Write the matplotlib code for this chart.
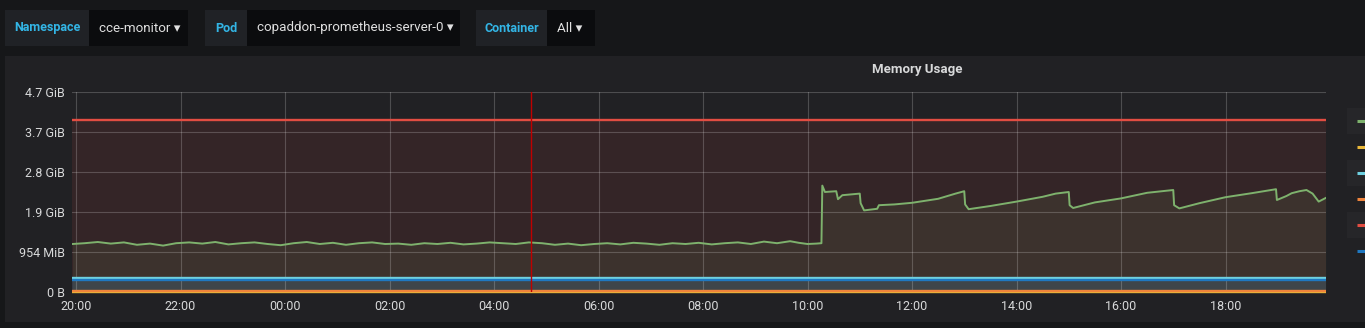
import matplotlib
matplotlib.use('Agg')
import matplotlib.pyplot as plt
import matplotlib.dates as mdates
from matplotlib.patches import Rectangle
from matplotlib.lines import Line2D
from datetime import datetime, timedelta

# ---------------- data ----------------
title = "Memory Usage"
var_labels = ["Namespace", "Pod", "Container"]
var_values = ["cce-monitor", "copaddon-prometheus-server-0", "All"]

# memory usage in units of 1e9 bytes
green_times = ["19:56", "20:10", "20:25", "20:40", "20:55", "21:10", "21:25", "21:40", "21:55",
               "22:10", "22:25", "22:40", "22:55", "23:10", "23:25", "23:40", "23:55",
               "00:10", "00:25", "00:40", "00:55", "01:10", "01:25", "01:40", "01:55",
               "02:10", "02:25", "02:40", "02:55", "03:10", "03:25", "03:40", "03:55",
               "04:10", "04:25", "04:40", "04:55", "05:10", "05:25", "05:40", "05:55",
               "06:10", "06:25", "06:40", "06:55", "07:10", "07:25", "07:40", "07:55",
               "08:10", "08:25", "08:40", "08:55", "09:10", "09:25", "09:40", "09:50",
               "10:00", "10:10", "10:16",
               "10:17", "10:20", "10:33", "10:35", "10:40", "11:00", "11:01", "11:05",
               "11:20", "11:22", "11:40", "12:00", "12:30", "12:50", "13:00",
               "13:01", "13:05", "13:30", "14:00", "14:30", "14:45", "15:00",
               "15:01", "15:05", "15:30", "16:00", "16:30", "17:00",
               "17:01", "17:07", "17:30", "18:00", "18:30", "18:58",
               "18:59", "19:10", "19:16", "19:25", "19:33", "19:40", "19:47", "19:55"]
green_vals = [1.20, 1.22, 1.25, 1.21, 1.24, 1.18, 1.21, 1.16, 1.22,
              1.24, 1.21, 1.25, 1.19, 1.22, 1.24, 1.20, 1.17,
              1.22, 1.25, 1.20, 1.23, 1.18, 1.22, 1.24, 1.20,
              1.21, 1.18, 1.22, 1.20, 1.23, 1.19, 1.21, 1.24,
              1.22, 1.20, 1.24, 1.22, 1.18, 1.21, 1.17, 1.20,
              1.22, 1.19, 1.23, 1.21, 1.18, 1.22, 1.20, 1.23,
              1.19, 1.22, 1.24, 1.20, 1.26, 1.22, 1.27, 1.23,
              1.20, 1.21, 1.22,
              2.66, 2.50, 2.52, 2.32, 2.42, 2.46, 2.22, 2.04,
              2.08, 2.17, 2.19, 2.23, 2.33, 2.46, 2.52,
              2.19, 2.07, 2.15, 2.26, 2.38, 2.46, 2.50,
              2.17, 2.10, 2.24, 2.34, 2.48, 2.55,
              2.17, 2.09, 2.22, 2.37, 2.47, 2.57,
              2.30, 2.40, 2.47, 2.52, 2.55, 2.46, 2.26, 2.35]

# constant series (1e9 bytes)
series_names = ["usage", "request", "cache", "rss", "limit", "working set"]
series_colors = ["#7eb26d", "#eab839", "#6ed0e0", "#ef843c", "#e24d42", "#1f78c1"]
const_vals = {"request": 0.0, "cache": 0.345, "rss": 0.035, "limit": 4.30, "working set": 0.30}

marker_time = "04:42"
y_ticks = [0, 1, 2, 3, 4, 5]
y_tick_labels = ["0 B", "954 MiB", "1.9 GiB", "2.8 GiB", "3.7 GiB", "4.7 GiB"]

# ---------------- helpers ----------------
W, H = 1365, 328
base = datetime(2019, 1, 1, 0, 0)


def to_dt(seq):
    out, day, prev = [], 0, None
    for s in seq:
        hh, mm = map(int, s.split(":"))
        m = hh * 60 + mm
        if prev is not None and m < prev:
            day += 1
        prev = m
        out.append(base + timedelta(days=day, minutes=m))
    return out


gt = to_dt(green_times)
x_start = base + timedelta(hours=19, minutes=55, seconds=24)
x_end = x_start + timedelta(hours=24)
mh, mm = map(int, marker_time.split(":"))
marker_dt = base + timedelta(days=1, hours=mh, minutes=mm)

fig = plt.figure(figsize=(W / 100, H / 100), dpi=100)
fig.patch.set_facecolor('#161719')


def fx(x):
    return x / W


def fy(y):
    return 1 - y / H


def box(x0, y0, x1, y1, color, z=0):
    fig.add_artist(Rectangle((fx(x0), fy(y1)), fx(x1) - fx(x0), fy(y0) - fy(y1),
                             transform=fig.transFigure, facecolor=color,
                             edgecolor='none', zorder=z))


FONT = ['Roboto', 'DejaVu Sans']

# top variable bar
boxes = [(5, 89, 188), (205, 247, 460), (476, 547, 595)]
for (x0, x1, x2), lab, val in zip(boxes, var_labels, var_values):
    box(x0, 10, x1, 46, '#202226')
    box(x1, 10, x2, 46, '#0b0c0e')
    fig.text(fx((x0 + x1) / 2), fy(28), lab, color='#33b5e5', fontsize=9,
             fontweight='bold', ha='center', va='center', family=FONT)
    fig.text(fx(x1 + 10), fy(28), val + " \u25be", color='#e0e0e0', fontsize=9.6,
             ha='left', va='center', family=FONT)

# panel
box(5, 56, 1365, 322, '#212124')
fig.text(fx(917), fy(70), title, color='#d8d9da', fontsize=9.5, fontweight='bold',
         ha='center', va='center', family=FONT)

# legend (cut off at right)
row_y0 = 108
for i, c in enumerate(series_colors):
    y0 = row_y0 + 26 * i
    if i % 2 == 0:
        box(1347, y0, 1365, y0 + 26, '#262629', z=1)
    fig.add_artist(Line2D([fx(1357), fx(1366)], [fy(y0 + 13), fy(y0 + 13)],
                          transform=fig.transFigure, color=c, lw=2.2,
                          solid_capstyle='butt', zorder=2))

# plot axes
ax = fig.add_axes([fx(72), fy(292), fx(1326) - fx(72), fy(92) - fy(292)])
ax.set_facecolor('#212124')
for sp in ax.spines.values():
    sp.set_visible(False)

t2 = [x_start, x_end]
for name, col in zip(series_names, series_colors):
    if name == "usage":
        ax.fill_between(gt, green_vals, 0, color=col, alpha=0.1, lw=0, zorder=1)
    else:
        v = const_vals[name]
        ax.fill_between(t2, [v, v], 0, color=col, alpha=0.1, lw=0, zorder=1)

for name, col in zip(series_names, series_colors):
    if name == "usage":
        ax.plot(gt, green_vals, color=col, lw=1.4, zorder=3)
    else:
        v = const_vals[name]
        ax.plot(t2, [v, v], color=col, lw=1.7, zorder=3, clip_on=False,
                solid_capstyle='butt')

ax.axvline(marker_dt, color='#c00000', lw=1, zorder=4)

ax.set_xlim(x_start, x_end)
ax.set_ylim(0, 5)
ax.set_yticks(y_ticks)
ax.set_yticklabels(y_tick_labels)
ax.xaxis.set_major_locator(mdates.HourLocator(byhour=range(0, 24, 2)))
ax.xaxis.set_major_formatter(mdates.DateFormatter('%H:%M'))
ax.tick_params(axis='both', length=0, colors='#d8d9da', labelsize=9)
ax.tick_params(axis='y', pad=5)
ax.tick_params(axis='x', pad=6)
for lab in ax.get_xticklabels() + ax.get_yticklabels():
    lab.set_family(FONT)
ax.set_axisbelow(False)
ax.grid(True, color='white', alpha=0.2, lw=0.8, zorder=2)

fig.savefig('out.png', dpi=100, facecolor=fig.get_facecolor())
